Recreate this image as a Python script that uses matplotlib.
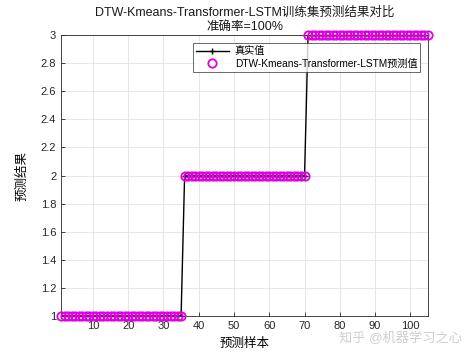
import matplotlib.pyplot as plt
import numpy as np

plt.rcParams["font.family"] = ["Liberation Sans", "Noto Sans CJK SC", "DejaVu Sans"]

# class labels of the 105 training samples
sample_idx = np.arange(1, 106)
true_labels = [1] * 35 + [2] * 35 + [3] * 35
pred_labels = [1] * 35 + [2] * 35 + [3] * 35

x_ticks = [10, 20, 30, 40, 50, 60, 70, 80, 90, 100]
y_ticks = [1, 1.2, 1.4, 1.6, 1.8, 2, 2.2, 2.4, 2.6, 2.8, 3]

fig = plt.figure(figsize=(4.74, 3.55), dpi=100)
ax = fig.add_axes([0.129, 0.110, 0.774, 0.791])

ax.plot(sample_idx, true_labels, "k-", marker="+", markersize=5,
        linewidth=1.0, label="真实值", zorder=2)
ax.plot(sample_idx, pred_labels, "o", color="#e000e0", markerfacecolor="none",
        markersize=6, markeredgewidth=1.3, linestyle="none",
        label="DTW-Kmeans-Transformer-LSTM预测值", zorder=3, clip_on=False)

ax.set_xlim(1, 105)
ax.set_ylim(1, 3)
ax.set_xticks(x_ticks)
ax.set_yticks(y_ticks)
ax.set_yticklabels([f"{v:g}" for v in y_ticks])
ax.tick_params(labelsize=8, direction="in", length=3, width=0.6, colors="#262626")
ax.grid(True, color="#e3e3e3", linewidth=0.6)
ax.set_axisbelow(True)
for s in ax.spines.values():
    s.set_linewidth(0.6)
    s.set_color("#262626")

ax.set_title("DTW-Kmeans-Transformer-LSTM训练集预测结果对比\n准确率=100%",
             fontsize=9, pad=4, color="#1a1a1a")
ax.set_xlabel("预测样本", fontsize=9, labelpad=5)
ax.set_ylabel("预测结果", fontsize=9, labelpad=9)

leg = ax.legend(loc="upper left", bbox_to_anchor=(0.36, 0.972), fontsize=7.3,
                frameon=True, fancybox=False, edgecolor="#262626",
                borderpad=0.3, labelspacing=0.25, handlelength=3.2,
                handletextpad=0.6, borderaxespad=0)
leg.get_frame().set_linewidth(0.6)

fig.text(0.975, 0.047, "知乎 @机器学习之心", fontsize=9.5, color="#cfcfcf",
         ha="right", va="center")

fig.savefig("out.png", dpi=100)
